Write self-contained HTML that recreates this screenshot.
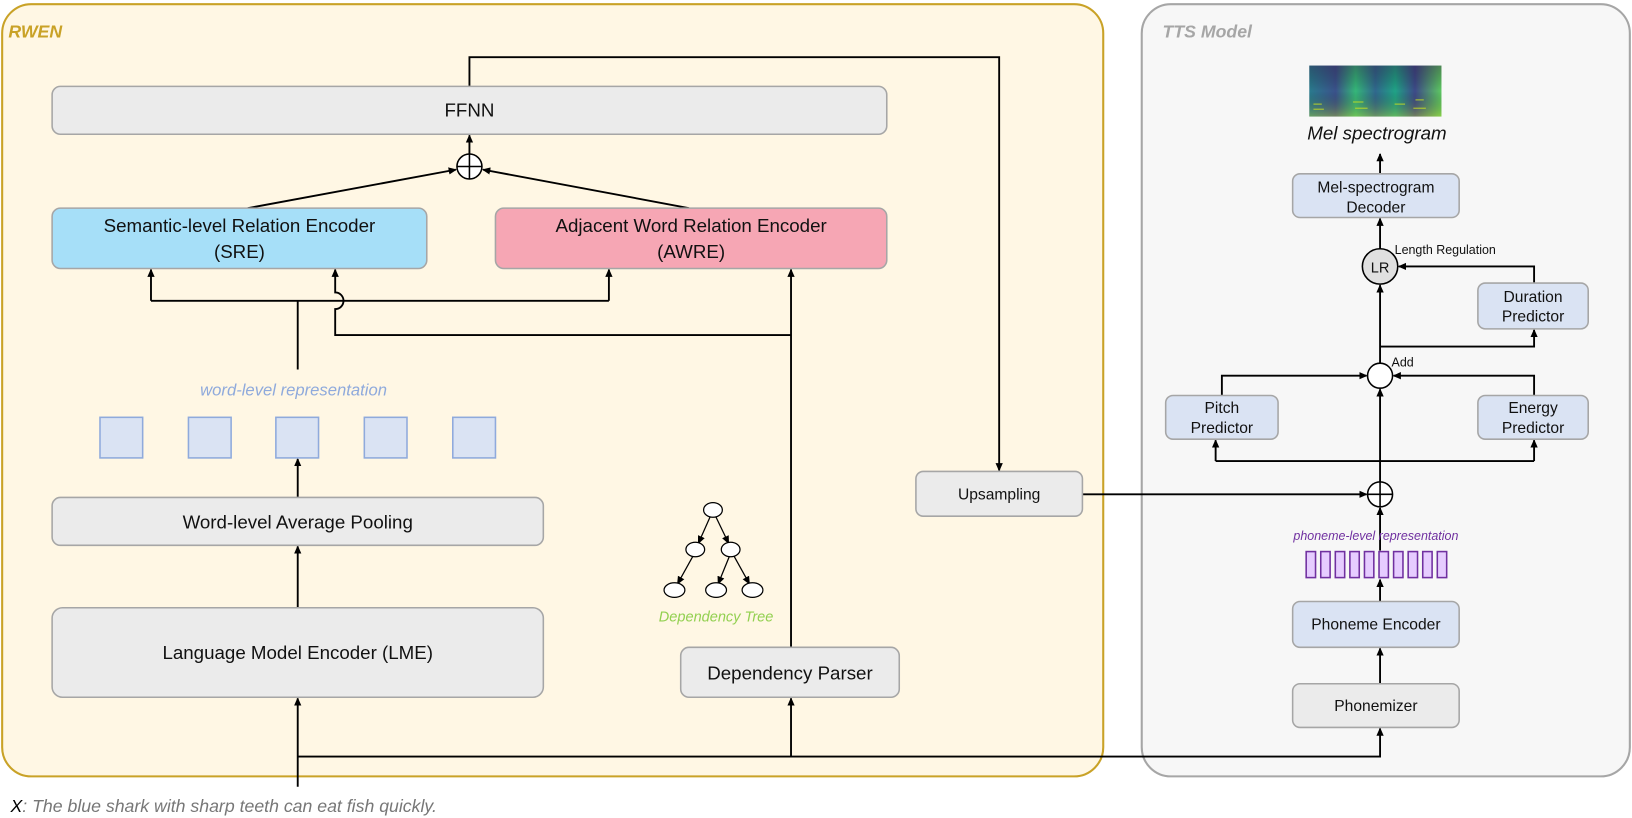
<!DOCTYPE html>
<html><head><meta charset="utf-8"><style>
html,body{margin:0;padding:0;background:#fff;}
svg{display:block;}
text{font-family:"Liberation Sans",sans-serif;}
</style></head><body>
<svg width="1632" height="818" viewBox="0 0 1568 786" xmlns="http://www.w3.org/2000/svg">
<defs>
<marker id="a" markerWidth="8" markerHeight="8" refX="7" refY="4" orient="auto" markerUnits="userSpaceOnUse"><path d="M0,0.5 L8,4 L0,7.5 z" fill="#000"/></marker>
<linearGradient id="sp" x1="0" x2="1" y1="0" y2="0">
<stop offset="0" stop-color="#2a7b8e"/><stop offset="0.2" stop-color="#3b528b"/><stop offset="0.35" stop-color="#35b779"/><stop offset="0.5" stop-color="#31688e"/><stop offset="0.65" stop-color="#20a386"/><stop offset="0.8" stop-color="#3e4a89"/><stop offset="1" stop-color="#5ec962"/></linearGradient>
<linearGradient id="sp2" x1="0" x2="0" y1="0" y2="1"><stop offset="0" stop-color="#30123b" stop-opacity="0.35"/><stop offset="0.5" stop-color="#000" stop-opacity="0"/><stop offset="1" stop-color="#d8e219" stop-opacity="0.35"/></linearGradient>
</defs>
<!-- containers -->
<rect x="2" y="4" width="1058" height="742" rx="28" fill="#fff7e4" stroke="#c9a227" stroke-width="2"/>
<text x="8" y="36" font-size="17" font-weight="bold" font-style="italic" fill="#c9a227">RWEN</text>
<rect x="1097" y="4" width="469" height="742" rx="28" fill="#f7f7f7" stroke="#a6a6a6" stroke-width="2"/>
<text x="1117" y="36" font-size="17" font-weight="bold" font-style="italic" fill="#a6a6a6">TTS Model</text>

<g stroke="#000" stroke-width="1.8" fill="none">
<!-- FFNN to upsampling -->
<polyline points="451,83 451,55 960,55 960,452" marker-end="url(#a)"/>
<line x1="451" y1="148" x2="451" y2="130" marker-end="url(#a)"/>
<line x1="238" y1="200" x2="438" y2="163" marker-end="url(#a)"/>
<line x1="662" y1="200" x2="464" y2="163" marker-end="url(#a)"/>
<!-- word-level branches -->
<polyline points="145,289 585,289"/>
<line x1="145" y1="289" x2="145" y2="259" marker-end="url(#a)"/>
<line x1="585" y1="289" x2="585" y2="259" marker-end="url(#a)"/>
<line x1="286" y1="289" x2="286" y2="355"/>
<path d="M760,322 L322,322 L322,297 A8,8 0 0 0 322,281 L322,259" marker-end="url(#a)"/>
<line x1="760" y1="622" x2="760" y2="259" marker-end="url(#a)"/>
<line x1="286" y1="478" x2="286" y2="441" marker-end="url(#a)"/>
<line x1="286" y1="584" x2="286" y2="525" marker-end="url(#a)"/>
<!-- bottom input -->
<line x1="286" y1="756" x2="286" y2="671" marker-end="url(#a)"/>
<polyline points="286,727 1326,727 1326,700" marker-end="url(#a)"/>
<line x1="760" y1="727" x2="760" y2="671" marker-end="url(#a)"/>
<!-- TTS -->
<line x1="1326" y1="657" x2="1326" y2="623" marker-end="url(#a)"/>
<line x1="1326" y1="578" x2="1326" y2="557" marker-end="url(#a)"/>
<line x1="1326" y1="529" x2="1326" y2="488" marker-end="url(#a)"/>
<line x1="1040" y1="475" x2="1313" y2="475" marker-end="url(#a)"/>
<line x1="1326" y1="463" x2="1326" y2="374" marker-end="url(#a)"/>
<polyline points="1168,443 1474,443"/>
<line x1="1168" y1="443" x2="1168" y2="423" marker-end="url(#a)"/>
<line x1="1474" y1="443" x2="1474" y2="423" marker-end="url(#a)"/>
<polyline points="1174,380 1174,361 1313,361" marker-end="url(#a)"/>
<polyline points="1474,380 1474,361 1339,361" marker-end="url(#a)"/>
<line x1="1326" y1="349" x2="1326" y2="274" marker-end="url(#a)"/>
<polyline points="1326,333 1474,333 1474,317" marker-end="url(#a)"/>
<polyline points="1474,272 1474,256 1344,256" marker-end="url(#a)"/>
<line x1="1326" y1="239" x2="1326" y2="210" marker-end="url(#a)"/>
<line x1="1326" y1="167" x2="1326" y2="148" marker-end="url(#a)"/>
</g>

<!-- boxes -->
<g stroke="#a6a6a6" stroke-width="1.5">
<rect x="50" y="83" width="802" height="46" rx="8" fill="#ebebeb"/>
<rect x="50" y="200" width="360" height="58" rx="8" fill="#a6dff8"/>
<rect x="476" y="200" width="376" height="58" rx="8" fill="#f6a6b4"/>
<rect x="50" y="478" width="472" height="46" rx="8" fill="#ebebeb"/>
<rect x="50" y="584" width="472" height="86" rx="10" fill="#ebebeb"/>
<rect x="654" y="622" width="210" height="48" rx="8" fill="#ebebeb"/>
<rect x="880" y="453" width="160" height="43" rx="7" fill="#ebebeb"/>
<rect x="1242" y="167" width="160" height="42" rx="7" fill="#dae3f3"/>
<rect x="1420" y="272" width="106" height="44" rx="7" fill="#dae3f3"/>
<rect x="1120" y="380" width="108" height="42" rx="7" fill="#dae3f3"/>
<rect x="1420" y="380" width="106" height="42" rx="7" fill="#dae3f3"/>
<rect x="1242" y="578" width="160" height="44" rx="7" fill="#dae3f3"/>
<rect x="1242" y="657" width="160" height="42" rx="7" fill="#ebebeb"/>
</g>
<g fill="#dae3f3" stroke="#8faadc" stroke-width="1.5">
<rect x="96" y="401" width="41" height="39"/><rect x="181" y="401" width="41" height="39"/><rect x="265" y="401" width="41" height="39"/><rect x="350" y="401" width="41" height="39"/><rect x="435" y="401" width="41" height="39"/>
</g>
<g fill="#e6ccff" stroke="#7030a0" stroke-width="1.5">
<rect x="1255" y="530" width="9" height="25"/><rect x="1269" y="530" width="9" height="25"/><rect x="1283" y="530" width="9" height="25"/><rect x="1297" y="530" width="9" height="25"/><rect x="1311" y="530" width="9" height="25"/><rect x="1325" y="530" width="9" height="25"/><rect x="1339" y="530" width="9" height="25"/><rect x="1353" y="530" width="9" height="25"/><rect x="1367" y="530" width="9" height="25"/><rect x="1381" y="530" width="9" height="25"/>
</g>
<!-- circles -->
<g stroke="#000" stroke-width="1.5">
<circle cx="451" cy="160" r="12" fill="#fff"/><path d="M439,160 H463 M451,148 V172"/>
<circle cx="1326" cy="475" r="12" fill="#fff"/><path d="M1314,475 H1338 M1326,463 V487"/>
<circle cx="1326" cy="361" r="12" fill="#fff"/>
<circle cx="1326" cy="256" r="17" fill="#e0e0e0"/>
</g>
<!-- tree -->
<g stroke="#000" stroke-width="1.2">
<line x1="683" y1="495" x2="671" y2="522" marker-end="url(#a)"/>
<line x1="687" y1="495" x2="700" y2="522" marker-end="url(#a)"/>
<line x1="666" y1="534" x2="651" y2="561" marker-end="url(#a)"/>
<line x1="701" y1="534" x2="690" y2="561" marker-end="url(#a)"/>
<line x1="705" y1="534" x2="720" y2="561" marker-end="url(#a)"/>
<g fill="#fff"><ellipse cx="685" cy="490" rx="9" ry="7"/><ellipse cx="668" cy="528" rx="9" ry="7"/><ellipse cx="702" cy="528" rx="9" ry="7"/><ellipse cx="648" cy="567" rx="10" ry="7"/><ellipse cx="688" cy="567" rx="10" ry="7"/><ellipse cx="723" cy="567" rx="10" ry="7"/></g>
</g>
<!-- spectrogram -->
<rect x="1258" y="63" width="127" height="49" fill="url(#sp)"/>
<rect x="1258" y="63" width="127" height="49" fill="url(#sp2)"/>
<g stroke="#c8e020" stroke-width="1.2" opacity="0.7">
<path d="M1262,100 h8 M1262,105 h10 M1300,98 h10 M1302,104 h12 M1340,100 h10 M1360,96 h8 M1358,104 h12"/>
</g>

<!-- texts -->
<g font-size="18" text-anchor="middle" fill="#111">
<text x="451" y="112">FFNN</text>
<text x="230" y="223">Semantic-level Relation Encoder</text>
<text x="230" y="248">(SRE)</text>
<text x="664" y="223">Adjacent Word Relation Encoder</text>
<text x="664" y="248">(AWRE)</text>
<text x="286" y="508">Word-level Average Pooling</text>
<text x="286" y="633">Language Model Encoder (LME)</text>
<text x="759" y="653">Dependency Parser</text>
</g>
<g font-size="15" text-anchor="middle" fill="#111">
<text x="960" y="480">Upsampling</text>
<text x="1322" y="185">Mel-spectrogram</text>
<text x="1322" y="204">Decoder</text>
<text x="1473" y="290">Duration</text>
<text x="1473" y="309">Predictor</text>
<text x="1174" y="397">Pitch</text>
<text x="1174" y="416">Predictor</text>
<text x="1473" y="397">Energy</text>
<text x="1473" y="416">Predictor</text>
<text x="1322" y="605">Phoneme Encoder</text>
<text x="1322" y="683">Phonemizer</text>
<text x="1326" y="262" font-size="14">LR</text>
</g>
<text x="1323" y="134" font-size="18" font-style="italic" text-anchor="middle" fill="#111">Mel spectrogram</text>
<text x="1340" y="244" font-size="12" fill="#111">Length Regulation</text>
<text x="1337" y="352" font-size="12" fill="#111">Add</text>
<text x="282" y="380" font-size="16" font-style="italic" text-anchor="middle" fill="#8faadc">word-level representation</text>
<text x="688" y="597" font-size="14" font-style="italic" text-anchor="middle" fill="#92d050">Dependency Tree</text>
<text x="1322" y="519" font-size="12" font-style="italic" text-anchor="middle" fill="#7030a0">phoneme-level representation</text>
<text x="10" y="780" font-size="17" font-style="italic" fill="#777" font-family="Liberation Serif, serif"><tspan fill="#000">X</tspan>: The blue shark with sharp teeth can eat fish quickly.</text>
</svg>
</body></html>
